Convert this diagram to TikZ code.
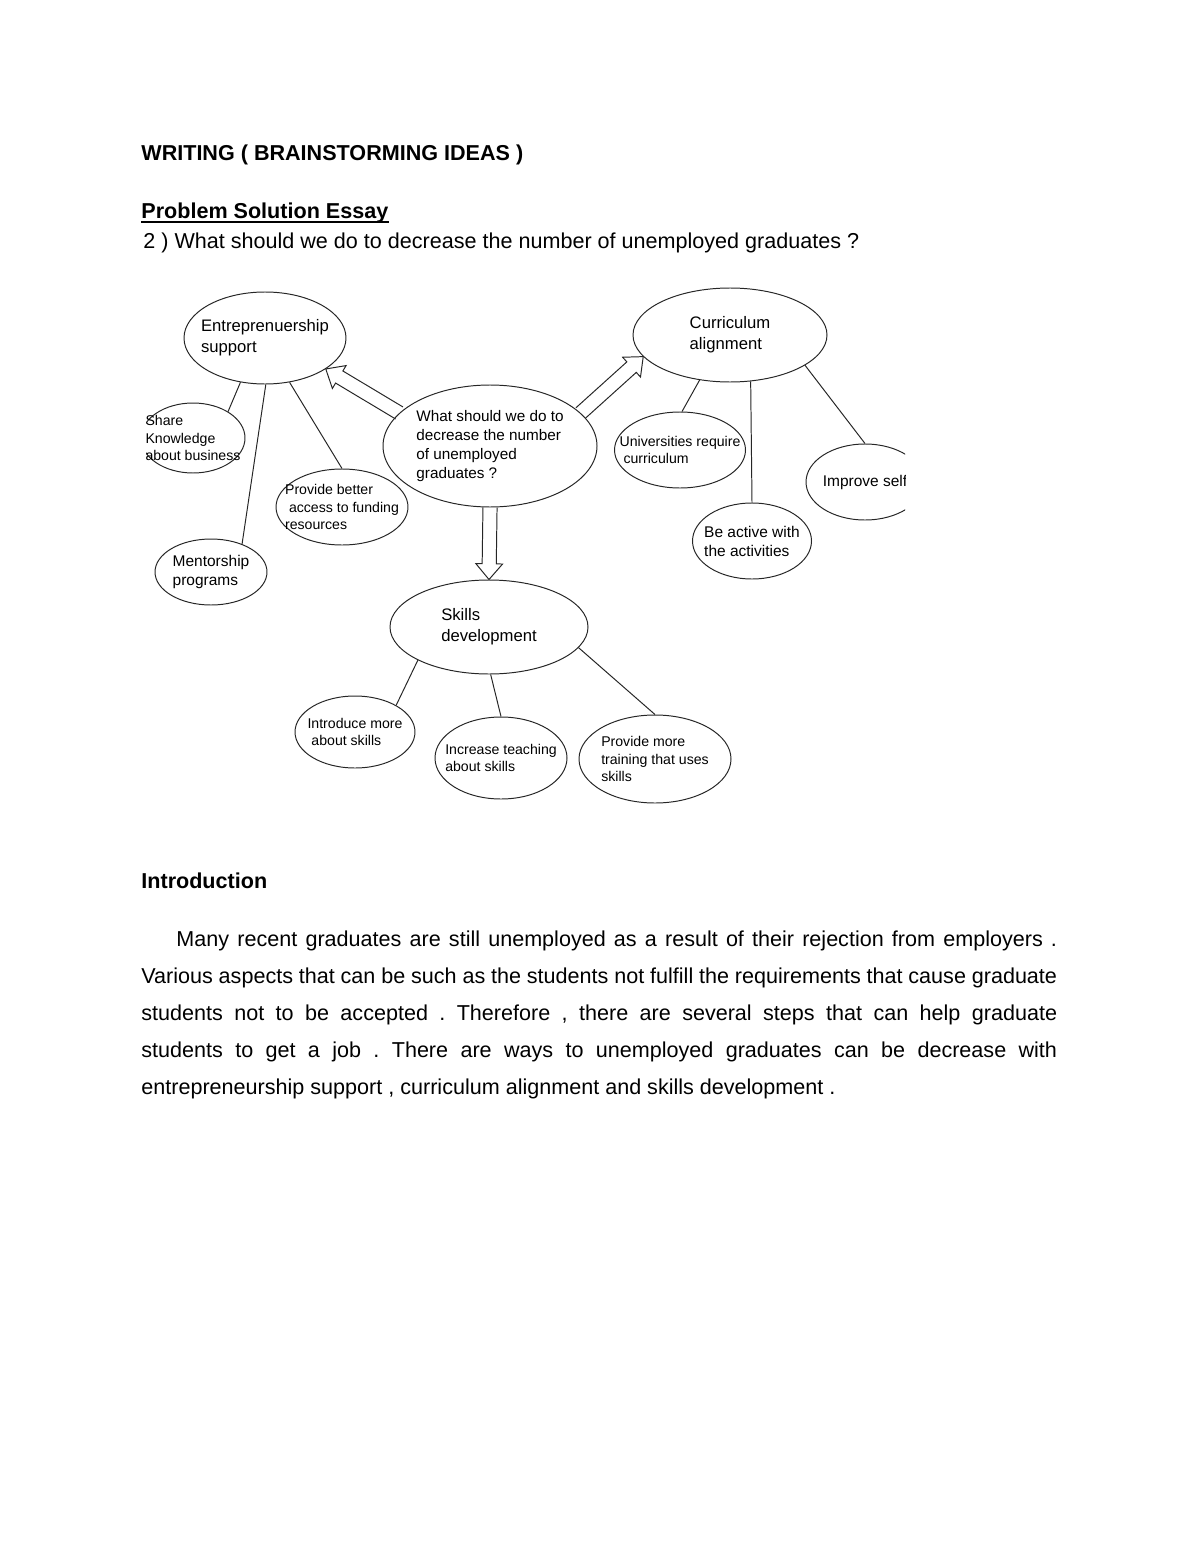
\documentclass[tikz,border=0pt]{standalone}
\usepackage{fontspec}
\setmainfont{Liberation Sans}
\usetikzlibrary{shapes.geometric,calc}

\tikzset{
  bubble/.style={ellipse, draw=black!85, line width=0.5pt, inner xsep=-9pt, inner ysep=0pt, align=left},
  sz/.style 2 args={minimum width=#1*0.51pt, minimum height=#2*0.51pt},
  big/.style={font=\fontsize{8.5}{10.7}\selectfont},
  mid/.style={font=\fontsize{7.9}{9.7}\selectfont},
  small/.style={font=\fontsize{7.2}{8.8}\selectfont},
  link/.style={draw=black!85, line width=0.5pt},
  hollow/.style={draw=black!85, line width=0.5pt, line join=miter},
  pagetext/.style={anchor=base west, inner sep=0pt, font=\fontsize{11}{13}\selectfont},
  boldtext/.style={pagetext, font=\bfseries\fontsize{11}{13}\selectfont},
}

% hollow block arrow from #1 to the tip #2
\newcommand{\blockarrow}[2]{%
  \coordinate (ba-base) at ($(#2)!8pt!(#1)$);
  \draw[hollow] ($(#1)!3.6pt!90:(#2)$) -- ($(ba-base)!3.6pt!90:(#2)$)
    -- ($(ba-base)!6.8pt!90:(#2)$) -- (#2) -- ($(ba-base)!6.8pt!-90:(#2)$)
    -- ($(ba-base)!3.6pt!-90:(#2)$) -- ($(#1)!3.6pt!-90:(#2)$);}

\begin{document}
\begin{tikzpicture}[x=0.51pt, y=-0.51pt]
\fill[white] (0,0) rectangle (1200,1553);
\useasboundingbox (0,0) rectangle (1200,1553);

% headings
\node[boldtext] (title) at (141,161) {WRITING ( BRAINSTORMING IDEAS )};
\node[boldtext] (essay) at (141,219) {Problem Solution Essay};
\draw[line width=0.8pt] ([yshift=-1.6pt]essay.base west) -- ([yshift=-1.6pt]essay.base east);
\node[pagetext] (question) at (143,248) {2 ) What should we do to decrease the number of unemployed graduates ?};

% brainstorming map
\begin{scope}
\clip (146,280) rectangle (905,812);
\node[bubble, font=\fontsize{7.8}{9.7}\selectfont, sz={214}{122}] (central) at (490,446)
  {What should we do to\\decrease the number\\of unemployed\\graduates ?};
\node[bubble, big, sz={162}{92}] (entre) at (265,338) {Entreprenuership\\support};
\node[bubble, big, sz={194}{94}] (curr) at (730,335) {Curriculum\\alignment};
\node[bubble, big, sz={198}{94}] (skills) at (489,627) {Skills\\development};

\node[bubble, small, sz={104}{70}] (share) at (193,438) {Share\\Knowledge\\about business};
\node[bubble, mid, sz={112}{66}] (mentor) at (211,572) {Mentorship\\programs};
\node[bubble, small, sz={132}{76}] (funding) at (342,507) {Provide better\\\hspace*{2pt}access to funding\\resources};

\node[bubble, small, sz={131}{76}] (univ) at (680,450) {Universities require\\\hspace*{2pt}curriculum};
\node[bubble, mid, sz={119}{76}] (active) at (752,541) {Be active with\\the activities};
\node[bubble, mid, sz={118}{76}] (improve) at (865,482) {Improve self};

\node[bubble, small, sz={120}{72}] (introduce) at (355,732) {Introduce more\\\hspace*{2pt}about skills};
\node[bubble, small, sz={132}{82}] (teaching) at (501,758) {Increase teaching\\about skills};
\node[bubble, small, sz={152}{88}] (training) at (655,759) {Provide more\\training that uses\\skills};

\draw[link] (entre.241) -- (share.37);
\draw[link] (entre.271) -- (mentor.42);
\draw[link] (entre.-61) -- (funding.north);
\draw[link] (curr.236) -- (univ.87);
\draw[link] (curr.-66) -- (active.north);
\draw[link] (curr.-22) -- (improve.north);
\draw[link] (skills.205) -- (introduce.33);
\draw[link] (skills.-88) -- (teaching.north);
\draw[link] (skills.-13) -- (training.north);

\blockarrow{central.160}{entre.-27}
\blockarrow{central.20}{curr.194}
\blockarrow{central.south}{skills.north}
\end{scope}

% introduction
\node[boldtext] (introhead) at (141,888) {Introduction};
\node[pagetext] (introtext) at (141,946) {\parbox[t]{467pt}{\fontsize{11}{18.9}\selectfont\frenchspacing
  \hbox to\hsize{\hspace*{17.9pt}Many recent graduates are still unemployed as a result of their rejection from employers .}
  \hbox to\hsize{Various aspects that can be such as the students not fulfill the requirements that cause graduate}
  \hbox to\hsize{students not to be accepted . Therefore , there are several steps that can help graduate}
  \hbox to\hsize{students to get a job . There are ways to unemployed graduates can be decrease with}
  \hbox{entrepreneurship support , curriculum alignment and skills development .}}};
\end{tikzpicture}
\end{document}
